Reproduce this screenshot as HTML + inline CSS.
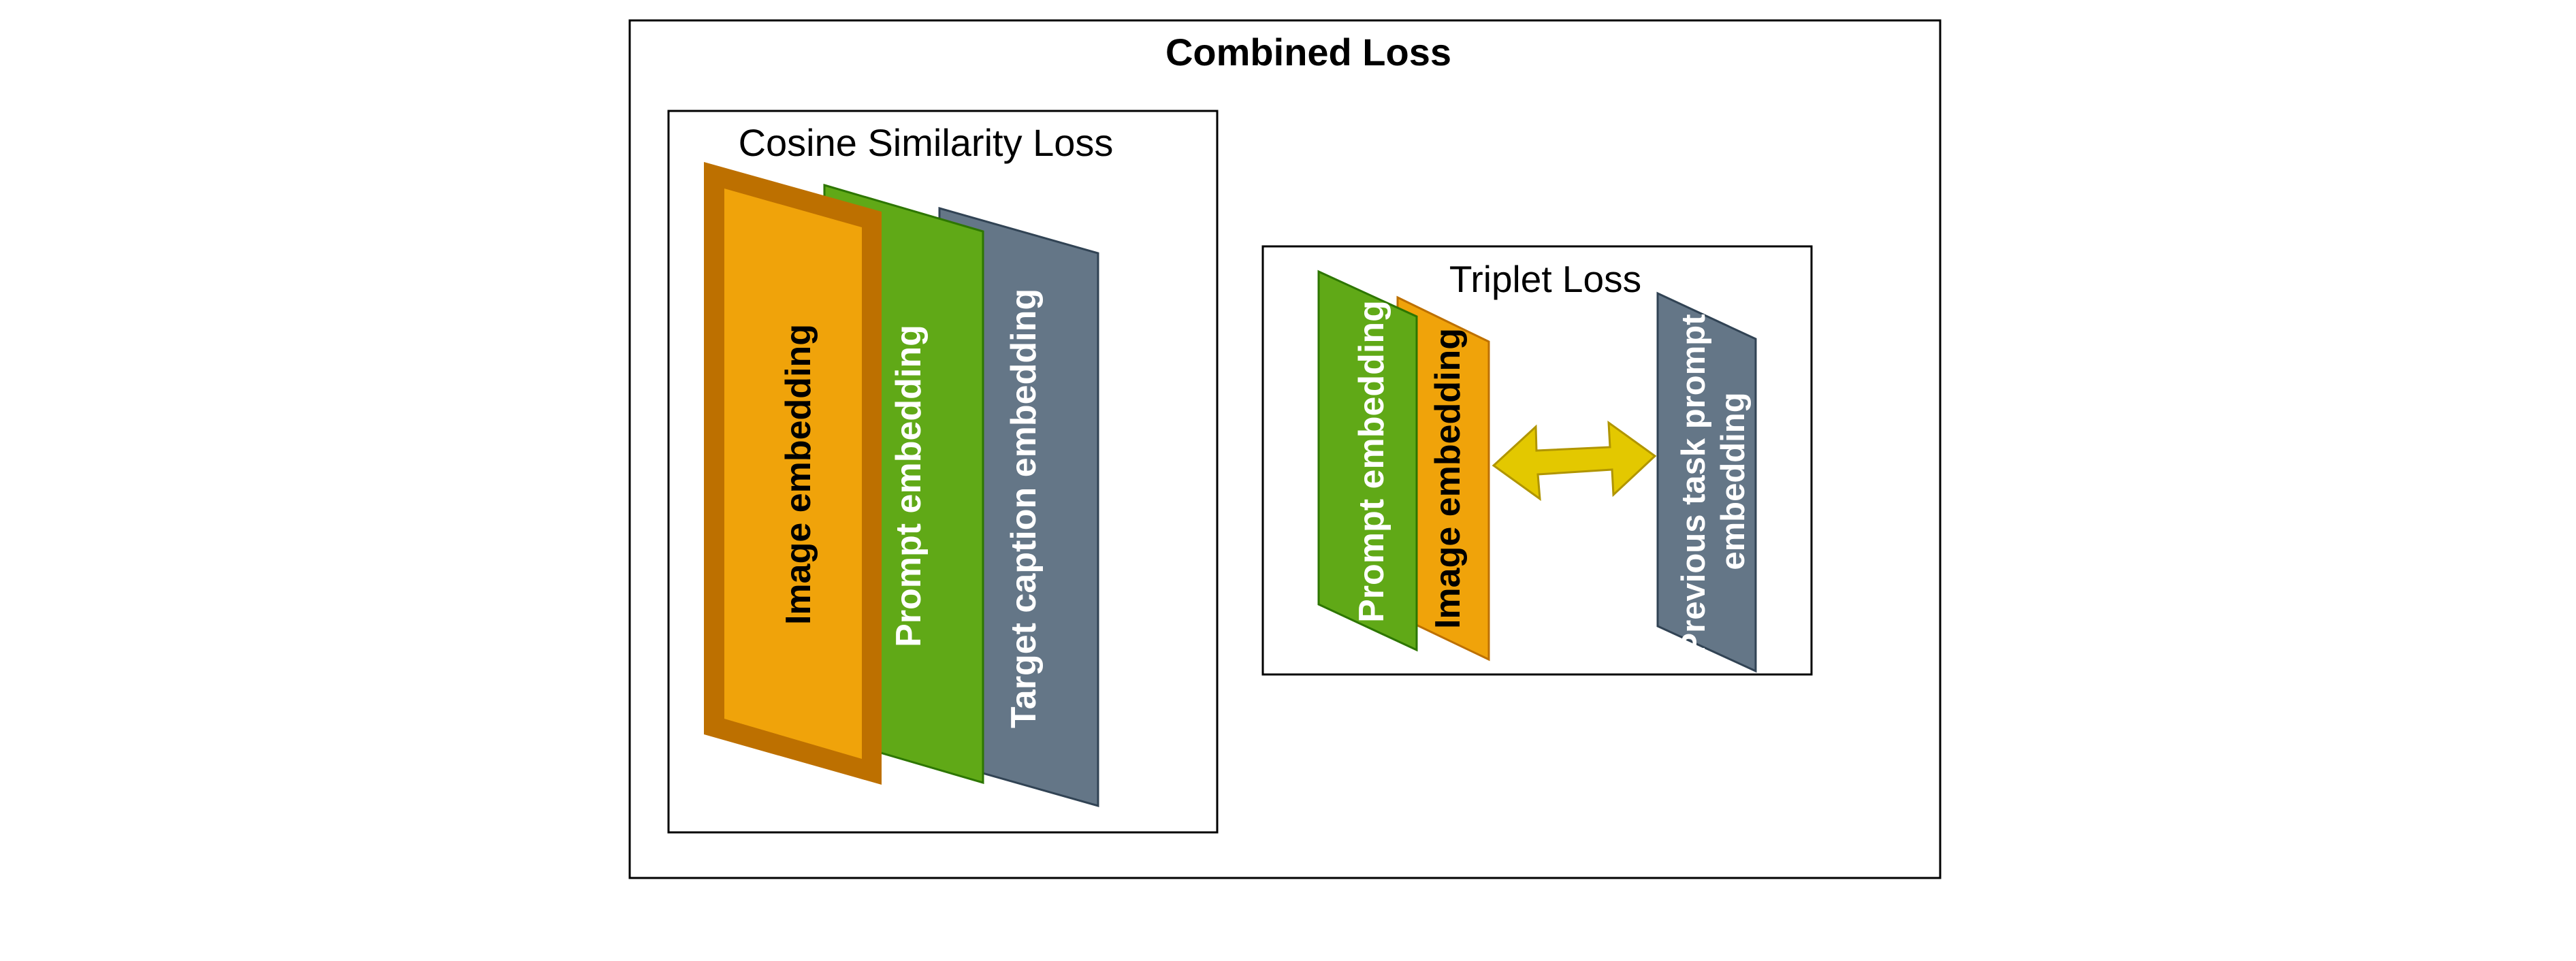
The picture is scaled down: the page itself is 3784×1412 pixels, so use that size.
<!DOCTYPE html>
<html><head><meta charset="utf-8"><style>
html,body{margin:0;padding:0;background:#fff;}
svg{display:block;}
text{font-family:"Liberation Sans",Arial,sans-serif;}
</style></head><body>
<svg width="3784" height="1412" viewBox="0 0 3784 1412" xmlns="http://www.w3.org/2000/svg">
<rect x="0" y="0" width="3784" height="1412" fill="#fff"/>
<rect x="925" y="30" width="1925" height="1260" fill="#fff" stroke="#000" stroke-width="3"/>
<text x="1922" y="96" font-size="56" font-weight="bold" text-anchor="middle">Combined Loss</text>
<rect x="982" y="163" width="806" height="1060" fill="#fff" stroke="#000" stroke-width="3"/>
<text x="1360" y="229" font-size="56" text-anchor="middle">Cosine Similarity Loss</text>
<polygon points="1380,306 1613,372 1613,1184 1380,1118" fill="#647687" stroke="#314354" stroke-width="3"/>
<polygon points="1211,272 1444,340 1444,1150 1211,1082" fill="#60a917" stroke="#2d7600" stroke-width="3"/>
<polygon points="1034,238 1295,311 1295,1153 1034,1079" fill="#bd7000"/>
<polygon points="1064,277 1266,334 1266,1115 1064,1056" fill="#f0a30a"/>
<text transform="translate(1190,697) rotate(-90)" font-size="52" font-weight="bold" text-anchor="middle" fill="#000">Image embedding</text>
<text transform="translate(1352,714) rotate(-90)" font-size="52" font-weight="bold" text-anchor="middle" fill="#fff">Prompt embedding</text>
<text transform="translate(1521,747) rotate(-90)" font-size="52" font-weight="bold" text-anchor="middle" fill="#fff">Target caption embedding</text>
<rect x="1855" y="362" width="806" height="629" fill="#fff" stroke="#000" stroke-width="3"/>
<text x="2270" y="429" font-size="55" text-anchor="middle">Triplet Loss</text>
<polygon points="2053,437 2187,502 2187,969 2053,905" fill="#f0a30a" stroke="#bd7000" stroke-width="3"/>
<polygon points="1937,399 2081,465 2081,955 1937,888" fill="#60a917" stroke="#2d7600" stroke-width="3"/>
<polygon points="2435,431 2579,498 2579,986 2435,920" fill="#647687" stroke="#314354" stroke-width="3"/>
<polygon points="2194,684 2256,627 2257,662 2365,657 2363,621 2431,670 2370,727 2368,690 2259,697 2262,733" fill="#e3c800" stroke="#b09500" stroke-width="3" stroke-linejoin="miter"/>
<text transform="translate(2032,678) rotate(-90)" font-size="52" font-weight="bold" text-anchor="middle" fill="#fff">Prompt embedding</text>
<text transform="translate(2144,703) rotate(-90)" font-size="52" font-weight="bold" text-anchor="middle" fill="#000">Image embedding</text>
<text transform="translate(2504,712) rotate(-90)" font-size="49" font-weight="bold" text-anchor="middle" fill="#fff">Previous task prompt</text>
<text transform="translate(2562,707) rotate(-90)" font-size="49" font-weight="bold" text-anchor="middle" fill="#fff">embedding</text>
</svg>
</body></html>
